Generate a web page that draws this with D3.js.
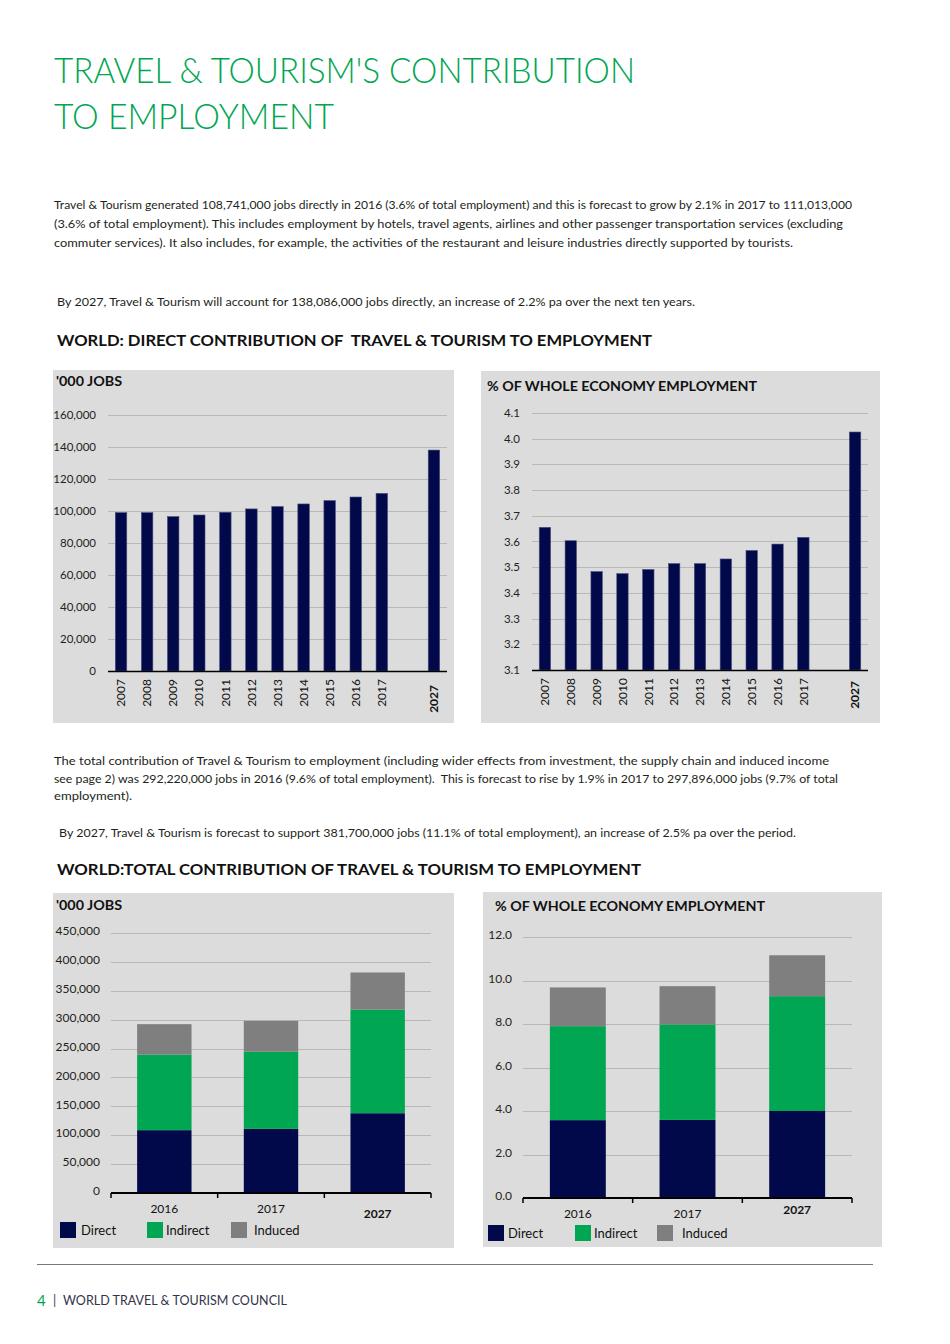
<!DOCTYPE html>
<html>
<head>
<meta charset="utf-8">
<script src="https://cdn.jsdelivr.net/npm/d3@7"></script>
<style>
  body { margin: 0; background: #fff; }
  text { font-family: Lato, "Open Sans", sans-serif; white-space: pre; }
</style>
</head>
<body>
<div id="page"></div>
<script>
// ---- data ----
var years = ["2007", "2008", "2009", "2010", "2011", "2012", "2013", "2014", "2015", "2016", "2017", "", "2027"];
var directJobs = [99000, 99000, 96500, 97500, 99200, 101300, 102800, 104400, 106500, 108741, 111013, null, 138086];
var directShare = [3.655, 3.603, 3.483, 3.475, 3.491, 3.514, 3.514, 3.532, 3.565, 3.59, 3.616, null, 4.026];
var jobsTicks = [0, 20000, 40000, 60000, 80000, 100000, 120000, 140000, 160000];
var shareTicks = [3.1, 3.2, 3.3, 3.4, 3.5, 3.6, 3.7, 3.8, 3.9, 4.0, 4.1];

var totalYears = ["2016", "2017", "2027"];
var seriesNames = ["Direct", "Indirect", "Induced"];
var totalDirect = [108741, 111013, 138086];
var totalIndirect = [130700, 133600, 179200];
var totalInduced = [52779, 53283, 64414];
var shareDirect = [3.58, 3.59, 4.0];
var shareIndirect = [4.32, 4.39, 5.28];
var shareInduced = [1.78, 1.76, 1.88];
var totalJobsTicks = [0, 50000, 100000, 150000, 200000, 250000, 300000, 350000, 400000, 450000];
var totalShareTicks = [0, 2, 4, 6, 8, 10, 12];

var NAVY = "#01094a", GREEN = "#00a651", GREY = "#7f7f7f", PANEL = "#dcdcdc", GRID = "#b8b8b8";
var colors = [NAVY, GREEN, GREY];

var svg = d3.select("#page").append("svg")
  .attr("width", 950).attr("height", 1344);

// ---- page text ----
function line(x, y, str, size, len, opts) {
  opts = opts || {};
  var t = svg.append("text").attr("x", x).attr("y", y)
    .attr("font-size", size)
    .attr("fill", opts.fill || "#231f20")
    .attr("font-weight", opts.weight || 400)
    .text(str);
  if (len) t.attr("textLength", len).attr("lengthAdjust", "spacingAndGlyphs");
  return t;
}

line(54, 83, "TRAVEL & TOURISM'S CONTRIBUTION", 35, 581, { fill: GREEN, weight: 300 });
line(54, 129, "TO EMPLOYMENT", 35, 280, { fill: GREEN, weight: 300 });

line(54, 209, "Travel & Tourism generated 108,741,000 jobs directly in 2016 (3.6% of total employment) and this is forecast to grow by 2.1% in 2017 to 111,013,000", 12, 798);
line(54, 228, "(3.6% of total employment). This includes employment by hotels, travel agents, airlines and other passenger transportation services (excluding", 12, 789);
line(54, 247, "commuter services). It also includes, for example, the activities of the restaurant and leisure industries directly supported by tourists.", 12, 739);
line(57, 306, "By 2027, Travel & Tourism will account for 138,086,000 jobs directly, an increase of 2.2% pa over the next ten years.", 12, 638);

line(57, 346, "WORLD: DIRECT CONTRIBUTION OF  TRAVEL & TOURISM TO EMPLOYMENT", 15, 595, { weight: 700, fill: "#111" });

line(54, 765, "The total contribution of Travel & Tourism to employment (including wider effects from investment, the supply chain and induced income", 12, 775);
line(54, 783, "see page 2) was 292,220,000 jobs in 2016 (9.6% of total employment).  This is forecast to rise by 1.9% in 2017 to 297,896,000 jobs (9.7% of total", 12, 784);
line(54, 800, "employment).", 12, 78);
line(59, 837, "By 2027, Travel & Tourism is forecast to support 381,700,000 jobs (11.1% of total employment), an increase of 2.5% pa over the period.", 12, 737);

line(57, 875, "WORLD:TOTAL CONTRIBUTION OF TRAVEL & TOURISM TO EMPLOYMENT", 15, 584, { weight: 700, fill: "#111" });

// footer
svg.append("line").attr("x1", 37).attr("x2", 873).attr("y1", 1264.5).attr("y2", 1264.5)
  .attr("stroke", "#777").attr("stroke-width", 1);
line(37, 1306, "4", 15, null, { fill: GREEN });
line(53, 1305, "|", 13, null, { fill: "#444" });
line(63, 1305, "WORLD TRAVEL & TOURISM COUNCIL", 13, 224, { fill: "#33334a" });

// ---- simple bar chart (direct contribution) ----
function barChart(cfg) {
  var g = svg.append("g");
  g.append("rect").attr("x", cfg.panel[0]).attr("y", cfg.panel[1])
    .attr("width", cfg.panel[2]).attr("height", cfg.panel[3]).attr("fill", PANEL);

  g.append("text").attr("x", cfg.titleX).attr("y", cfg.titleY)
    .attr("font-size", 14).attr("font-weight", 700).attr("fill", "#111")
    .attr("textLength", cfg.titleLen).attr("lengthAdjust", "spacingAndGlyphs")
    .text(cfg.title);

  var x = d3.scaleBand().domain(cfg.cats).range([cfg.x0, cfg.x1]).paddingInner(0.56).paddingOuter(0.28);
  var y = d3.scaleLinear().domain(cfg.domain).range([cfg.y0, cfg.y1]);

  // gridlines
  g.selectAll(".grid").data(cfg.ticks.slice(1)).enter().append("line")
    .attr("x1", cfg.x0).attr("x2", cfg.x1)
    .attr("y1", function (d) { return Math.round(y(d)) + 0.5; })
    .attr("y2", function (d) { return Math.round(y(d)) + 0.5; })
    .attr("stroke", GRID).attr("stroke-width", 1);

  // y labels
  g.selectAll(".ylab").data(cfg.ticks).enter().append("text")
    .attr("x", cfg.labelX).attr("y", function (d) { return y(d); })
    .attr("dy", "0.35em").attr("text-anchor", "end")
    .attr("font-size", cfg.labelSize).attr("fill", "#231f20")
    .text(function (d) { return cfg.fmt(d); });

  // bars
  var data = cfg.cats.map(function (c, i) { return { cat: c, v: cfg.values[i] }; })
    .filter(function (d) { return d.v != null; });
  g.selectAll(".bar").data(data).enter().append("rect")
    .attr("x", function (d) { return x(d.cat); })
    .attr("width", x.bandwidth())
    .attr("y", function (d) { return y(d.v); })
    .attr("height", function (d) { return cfg.y0 - y(d.v); })
    .attr("fill", NAVY).attr("stroke", "#4a4f7a").attr("stroke-width", 0.6);

  // baseline
  g.append("line").attr("x1", cfg.x0).attr("x2", cfg.x1)
    .attr("y1", cfg.y0 + 0.5).attr("y2", cfg.y0 + 0.5)
    .attr("stroke", "#000").attr("stroke-width", 1.3);

  // x labels, rotated
  g.selectAll(".xlab").data(data).enter().append("text")
    .attr("transform", function (d) {
      var cx = x(d.cat) + x.bandwidth() / 2;
      var ty = d.cat === "2027" ? cfg.y0 + cfg.lastOff : cfg.y0 + 8;
      return "translate(" + cx + "," + ty + ") rotate(-90)";
    })
    .attr("dy", "0.35em").attr("text-anchor", "end")
    .attr("font-size", 12)
    .attr("font-weight", function (d) { return d.cat === "2027" ? 700 : 400; })
    .attr("fill", "#111")
    .text(function (d) { return d.cat; });
}

barChart({
  panel: [53, 370, 401, 353],
  title: "'000 JOBS", titleX: 56, titleY: 386, titleLen: 66,
  cats: years, values: directJobs,
  x0: 108, x1: 447, y0: 671, y1: 415, domain: [0, 160000],
  ticks: jobsTicks, labelX: 96, labelSize: 11.5, fmt: d3.format(","), lastOff: 14
});

barChart({
  panel: [481, 371, 399, 352],
  title: "% OF WHOLE ECONOMY EMPLOYMENT", titleX: 487, titleY: 391, titleLen: 270,
  cats: years, values: directShare,
  x0: 532, x1: 868, y0: 670, y1: 413, domain: [3.1, 4.1],
  ticks: shareTicks, labelX: 520, labelSize: 11.5, fmt: d3.format(".1f"), lastOff: 11
});

// ---- stacked chart (total contribution) ----
function stackedChart(cfg) {
  var g = svg.append("g");
  g.append("rect").attr("x", cfg.panel[0]).attr("y", cfg.panel[1])
    .attr("width", cfg.panel[2]).attr("height", cfg.panel[3]).attr("fill", PANEL);

  g.append("text").attr("x", cfg.titleX).attr("y", cfg.titleY)
    .attr("font-size", 14).attr("font-weight", 700).attr("fill", "#111")
    .attr("textLength", cfg.titleLen).attr("lengthAdjust", "spacingAndGlyphs")
    .text(cfg.title);

  var x = d3.scaleBand().domain(totalYears).range([cfg.x0, cfg.x1]).paddingInner(0.49).paddingOuter(0.245);
  var y = d3.scaleLinear().domain(cfg.domain).range([cfg.y0, cfg.y1]);

  g.selectAll(".grid").data(cfg.ticks.slice(1)).enter().append("line")
    .attr("x1", cfg.x0).attr("x2", cfg.x1)
    .attr("y1", function (d) { return Math.round(y(d)) + 0.5; })
    .attr("y2", function (d) { return Math.round(y(d)) + 0.5; })
    .attr("stroke", GRID).attr("stroke-width", 1);

  g.selectAll(".ylab").data(cfg.ticks).enter().append("text")
    .attr("x", cfg.labelX).attr("y", function (d) { return y(d) - 2; })
    .attr("dy", "0.35em").attr("text-anchor", "end")
    .attr("font-size", 12).attr("fill", "#231f20")
    .text(function (d) { return cfg.fmt(d); });

  var rows = totalYears.map(function (yr, i) {
    return { year: yr, Direct: cfg.series[0][i], Indirect: cfg.series[1][i], Induced: cfg.series[2][i] };
  });
  var stacked = d3.stack().keys(seriesNames)(rows);

  g.selectAll(".layer").data(stacked).enter().append("g")
    .attr("fill", function (d, i) { return colors[i]; })
    .selectAll("rect").data(function (d) { return d; }).enter().append("rect")
    .attr("x", function (d) { return x(d.data.year); })
    .attr("width", x.bandwidth())
    .attr("y", function (d) { return y(d[1]); })
    .attr("height", function (d) { return y(d[0]) - y(d[1]); });

  // axis with band boundary ticks
  var axis = d3.axisBottom(x).tickSize(0).tickFormat("");
  var ax = g.append("g").attr("transform", "translate(0," + cfg.y0 + ")").call(axis);
  ax.select(".domain").attr("stroke", "#000").attr("stroke-width", 2.2)
    .attr("d", "M" + cfg.x0 + ",0H" + cfg.x1);
  g.selectAll(".btick").data(d3.range(totalYears.length + 1)).enter().append("line")
    .attr("x1", function (i) { return cfg.x0 + i * (cfg.x1 - cfg.x0) / totalYears.length; })
    .attr("x2", function (i) { return cfg.x0 + i * (cfg.x1 - cfg.x0) / totalYears.length; })
    .attr("y1", cfg.y0).attr("y2", cfg.y0 + 5)
    .attr("stroke", "#000").attr("stroke-width", 1.5);

  g.selectAll(".xlab").data(totalYears).enter().append("text")
    .attr("x", function (d) { return x(d) + x.bandwidth() / 2; })
    .attr("y", function (d) { return d === "2027" ? cfg.y0 + cfg.lastY : cfg.y0 + 20; })
    .attr("text-anchor", "middle").attr("font-size", 12)
    .attr("font-weight", function (d) { return d === "2027" ? 700 : 400; })
    .attr("fill", "#111")
    .text(function (d) { return d; });

  // legend
  var lg = g.selectAll(".leg").data(seriesNames).enter().append("g")
    .attr("transform", function (d, i) { return "translate(" + cfg.legX[i] + "," + cfg.legY + ")"; });
  lg.append("rect").attr("width", 16).attr("height", 16)
    .attr("fill", function (d, i) { return colors[i]; });
  lg.append("text").attr("x", function (d, i) { return cfg.legText[i]; }).attr("y", 13)
    .attr("font-size", 13).attr("fill", "#111")
    .text(function (d) { return d; });
}

stackedChart({
  panel: [53, 893, 401, 355],
  title: "'000 JOBS", titleX: 56, titleY: 910, titleLen: 66,
  series: [totalDirect, totalIndirect, totalInduced],
  x0: 111, x1: 431, y0: 1193, y1: 933, domain: [0, 450000],
  ticks: totalJobsTicks, labelX: 100, fmt: d3.format(","), lastY: 25,
  legX: [60, 147, 231], legText: [21, 19, 23], legY: 1222
});

stackedChart({
  panel: [483, 892, 399, 355],
  title: "% OF WHOLE ECONOMY EMPLOYMENT", titleX: 495, titleY: 911, titleLen: 270,
  series: [shareDirect, shareIndirect, shareInduced],
  x0: 523, x1: 852, y0: 1198, y1: 937, domain: [0, 12],
  ticks: totalShareTicks, labelX: 512, fmt: d3.format(".1f"), lastY: 16,
  legX: [488, 575, 657], legText: [20, 19, 25], legY: 1225
});
</script>
</body>
</html>
